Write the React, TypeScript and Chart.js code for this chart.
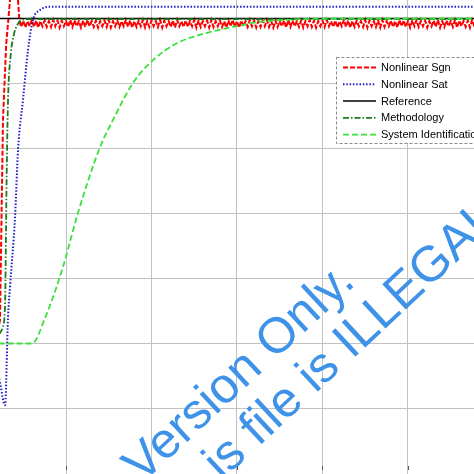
import { useEffect, useRef } from 'react';
import { Chart, registerables } from 'chart.js';

Chart.register(...registerables);

// visible window of the (cropped) figure, in axis units
const xAxisMin = 0.228;
const xAxisMax = 5.772;
const yAxisMin = -0.008;
const yAxisMax = 7.285;
const xGridTicks = [1, 2, 3, 4, 5];
const yGridTicks = [1, 2, 3, 4, 5, 6, 7];

// Nonlinear Sgn: fast rise with overshoot, then chattering just under the set point
const sgnTime = [0, 0.12, 0.2, 0.228, 0.263, 0.3, 0.345, 0.37, 0.39, 0.415, 0.439, 0.455];
const sgnValue = [2, 2.05, 2.2, 2.36, 5.44, 6.6, 7.28, 7.65, 7.75, 7.6, 7.28, 6.97];
const chatterStart = 0.475;
const chatterStep = 0.025;
const sgnChatter = [
  6.87, 6.97, 6.86, 6.96, 6.88, 6.98, 6.87, 6.97, 6.86, 6.96, 6.88, 6.97,
  6.87, 6.96, 6.87, 6.98, 6.88, 6.97, 6.86, 6.97, 6.88, 6.96, 6.87, 6.98,
  6.87, 6.97, 6.88, 6.96, 6.86, 6.97, 6.87, 6.98, 6.88, 6.96, 6.87, 6.97,
  6.86, 6.96, 6.88, 6.97, 6.87, 6.98, 6.86, 6.96, 6.88, 6.97, 6.87, 6.96,
  6.88, 6.98, 6.87, 6.97, 6.86, 6.96, 6.87, 6.97, 6.88, 6.98, 6.86, 6.96,
  6.87, 6.97, 6.88, 6.96, 6.87, 6.98, 6.86, 6.97, 6.88, 6.96, 6.87, 6.97,
  6.86, 6.98, 6.88, 6.96, 6.87, 6.97, 6.87, 6.96, 6.88, 6.98, 6.86, 6.97,
  6.87, 6.96, 6.88, 6.97, 6.86, 6.98, 6.87, 6.96, 6.88, 6.97, 6.87, 6.96,
  6.86, 6.97, 6.88, 6.98, 6.87, 6.96, 6.86, 6.97, 6.88, 6.96, 6.87, 6.98,
  6.88, 6.97, 6.86, 6.96, 6.87, 6.97, 6.88, 6.98, 6.87, 6.96, 6.86, 6.97,
  6.87, 6.96, 6.88, 6.97, 6.86, 6.98, 6.87, 6.97, 6.88, 6.96, 6.87, 6.97,
  6.86, 6.96, 6.88, 6.98, 6.87, 6.97, 6.86, 6.96, 6.88, 6.97, 6.87, 6.98,
  6.88, 6.96, 6.87, 6.97, 6.86, 6.96, 6.88, 6.98, 6.87, 6.97, 6.86, 6.96,
  6.87, 6.97, 6.88, 6.96, 6.87, 6.98, 6.86, 6.97, 6.88, 6.96, 6.87, 6.97,
  6.86, 6.98, 6.87, 6.96, 6.88, 6.97, 6.87, 6.96, 6.86, 6.98, 6.88, 6.97,
  6.87, 6.96, 6.86, 6.97, 6.88, 6.98, 6.87, 6.96, 6.88, 6.97, 6.86, 6.96,
  6.88, 6.97, 6.87, 6.98, 6.86, 6.96, 6.87, 6.97, 6.88, 6.96, 6.87, 6.98,
  6.86, 6.97, 6.88, 6.96, 6.87, 6.97, 6.86, 6.98, 6.88, 6.96, 6.87, 6.97,
];

// Nonlinear Sat: small dip, then a smooth rise to a slightly higher level
const satTime = [0, 0.1, 0.18, 0.228, 0.27, 0.287, 0.322, 0.345, 0.404, 0.439, 0.497, 0.556, 0.614, 0.696, 0.813, 0.93, 6];
const satValue = [2, 1.9, 1.65, 1.4, 1.1, 1.05, 2.41, 2.87, 3.95, 4.98, 5.75, 6.52, 6.98, 7.13, 7.18, 7.18, 7.18];

const refTime = [0, 6];
const refValue = [7, 7];

const methTime = [0, 0.15, 0.22, 0.26, 0.287, 0.305, 0.322, 0.35, 0.39, 0.43, 0.47, 0.55, 6];
const methValue = [2, 2.05, 2.15, 2.25, 2.6, 4.5, 5.75, 6.4, 6.75, 6.9, 6.97, 6.99, 6.99];

const sysTime = [0, 0.602, 0.754, 0.965, 1.14, 1.398, 1.55, 1.784, 2.018, 2.298, 2.649, 2.953, 3.269, 3.6, 4.0, 6];
const sysValue = [2, 2, 2.39, 3.18, 4.01, 5.02, 5.44, 6.01, 6.36, 6.62, 6.78, 6.87, 6.95, 6.98, 7.0, 7.0];

const seriesLabels = ['Nonlinear Sgn', 'Nonlinear Sat', 'Reference', 'Methodology', 'System Identification'];

const watermarkLines = [
  { text: 'Version Only.', x: 142, y: 484 },
  { text: 'is file is ILLEGAL', x: 222, y: 481 },
];

const pts = (xs: number[], ys: number[]) => xs.map((x, i) => ({ x, y: ys[i] }));

const FONT = '"Liberation Sans", Arial, Helvetica, sans-serif';

const legendPlugin = {
  id: 'boxLegend',
  afterDatasetsDraw(chart: any) {
    const ctx = chart.ctx;
    const left = 336;
    const top = 57;
    ctx.save();
    ctx.fillStyle = '#fff';
    ctx.fillRect(left, top, 160, 86);
    ctx.setLineDash([3, 2]);
    ctx.strokeStyle = '#8a8a8a';
    ctx.lineWidth = 1;
    ctx.strokeRect(left + 0.5, top + 0.5, 160, 86);
    ctx.font = '11px ' + FONT;
    ctx.textBaseline = 'middle';
    chart.data.datasets.forEach((ds: any, i: number) => {
      const y = 67.5 + i * 16.8;
      ctx.setLineDash(ds.borderDash || []);
      ctx.strokeStyle = ds.borderColor;
      ctx.lineWidth = ds.borderWidth;
      ctx.beginPath();
      ctx.moveTo(343, y);
      ctx.lineTo(376, y);
      ctx.stroke();
      ctx.setLineDash([]);
      ctx.fillStyle = '#000';
      ctx.fillText(ds.label, 381, y + 0.5);
    });
    ctx.restore();
  },
};

const axisTickPlugin = {
  id: 'innerTicks',
  afterDraw(chart: any) {
    const ctx = chart.ctx;
    const xs = chart.scales.x;
    const bottom = chart.chartArea.bottom;
    ctx.save();
    ctx.strokeStyle = '#555';
    ctx.lineWidth = 1;
    xGridTicks.forEach((v) => {
      const px = Math.round(xs.getPixelForValue(v)) + 0.5;
      ctx.beginPath();
      ctx.moveTo(px, bottom - 4);
      ctx.lineTo(px, bottom - 8);
      ctx.stroke();
    });
    ctx.restore();
  },
};

const watermarkPlugin = {
  id: 'watermark',
  afterDraw(chart: any) {
    const ctx = chart.ctx;
    ctx.save();
    ctx.fillStyle = 'rgb(62,146,232)';
    ctx.font = '50px ' + FONT;
    ctx.textAlign = 'left';
    ctx.textBaseline = 'alphabetic';
    watermarkLines.forEach((line) => {
      ctx.save();
      ctx.translate(line.x, line.y);
      ctx.rotate((-43 * Math.PI) / 180);
      ctx.fillText(line.text, 0, 0);
      ctx.restore();
    });
    ctx.restore();
  },
};

function ResponseChart() {
  const canvasRef = useRef<HTMLCanvasElement>(null);
  const chartRef = useRef<Chart | null>(null);

  useEffect(() => {
    if (!canvasRef.current) return;
    if (chartRef.current) chartRef.current.destroy();

    const chatterPts = sgnChatter.map((y, i) => ({ x: chatterStart + i * chatterStep, y }));

    chartRef.current = new Chart(canvasRef.current, {
      type: 'line',
      data: {
        datasets: [
          {
            label: seriesLabels[0],
            data: [...pts(sgnTime, sgnValue), ...chatterPts],
            borderColor: '#ff0000',
            borderWidth: 2,
            borderDash: [5, 2],
            tension: 0,
            order: 5,
          },
          {
            label: seriesLabels[1],
            data: pts(satTime, satValue),
            borderColor: '#1c1cc8',
            borderWidth: 2,
            borderDash: [1.5, 1.8],
            cubicInterpolationMode: 'monotone',
            order: 4,
          },
          {
            label: seriesLabels[2],
            data: pts(refTime, refValue),
            borderColor: '#000000',
            borderWidth: 1.5,
            order: 3,
          },
          {
            label: seriesLabels[3],
            data: pts(methTime, methValue),
            borderColor: '#1d7a1d',
            borderWidth: 1.8,
            borderDash: [6, 2, 1.5, 2],
            cubicInterpolationMode: 'monotone',
            order: 2,
          },
          {
            label: seriesLabels[4],
            data: pts(sysTime, sysValue),
            borderColor: '#3be03b',
            borderWidth: 1.8,
            borderDash: [6, 3],
            cubicInterpolationMode: 'monotone',
            order: 1,
          },
        ],
      },
      options: {
        animation: false,
        responsive: true,
        maintainAspectRatio: false,
        layout: { padding: 0 },
        elements: { point: { radius: 0 } },
        plugins: {
          legend: { display: false },
          tooltip: { enabled: false },
        },
        scales: {
          x: {
            type: 'linear',
            min: xAxisMin,
            max: xAxisMax,
            border: { display: false },
            ticks: { display: false },
            grid: { color: '#c2c2c2', lineWidth: 1, drawTicks: false },
            afterBuildTicks: (scale: any) => {
              scale.ticks = xGridTicks.map((value) => ({ value }));
            },
          },
          y: {
            type: 'linear',
            min: yAxisMin,
            max: yAxisMax,
            border: { display: false },
            ticks: { display: false },
            grid: { color: '#c2c2c2', lineWidth: 1, drawTicks: false },
            afterBuildTicks: (scale: any) => {
              scale.ticks = yGridTicks.map((value) => ({ value }));
            },
          },
        },
      },
      plugins: [legendPlugin, axisTickPlugin, watermarkPlugin],
    });

    return () => {
      if (chartRef.current) {
        chartRef.current.destroy();
        chartRef.current = null;
      }
    };
  }, []);

  return (
    <div style={{ position: 'fixed', left: 0, top: 0, width: 474, height: 474, background: '#fff' }}>
      <canvas ref={canvasRef}></canvas>
    </div>
  );
}

export default function App() {
  return <ResponseChart />;
}
